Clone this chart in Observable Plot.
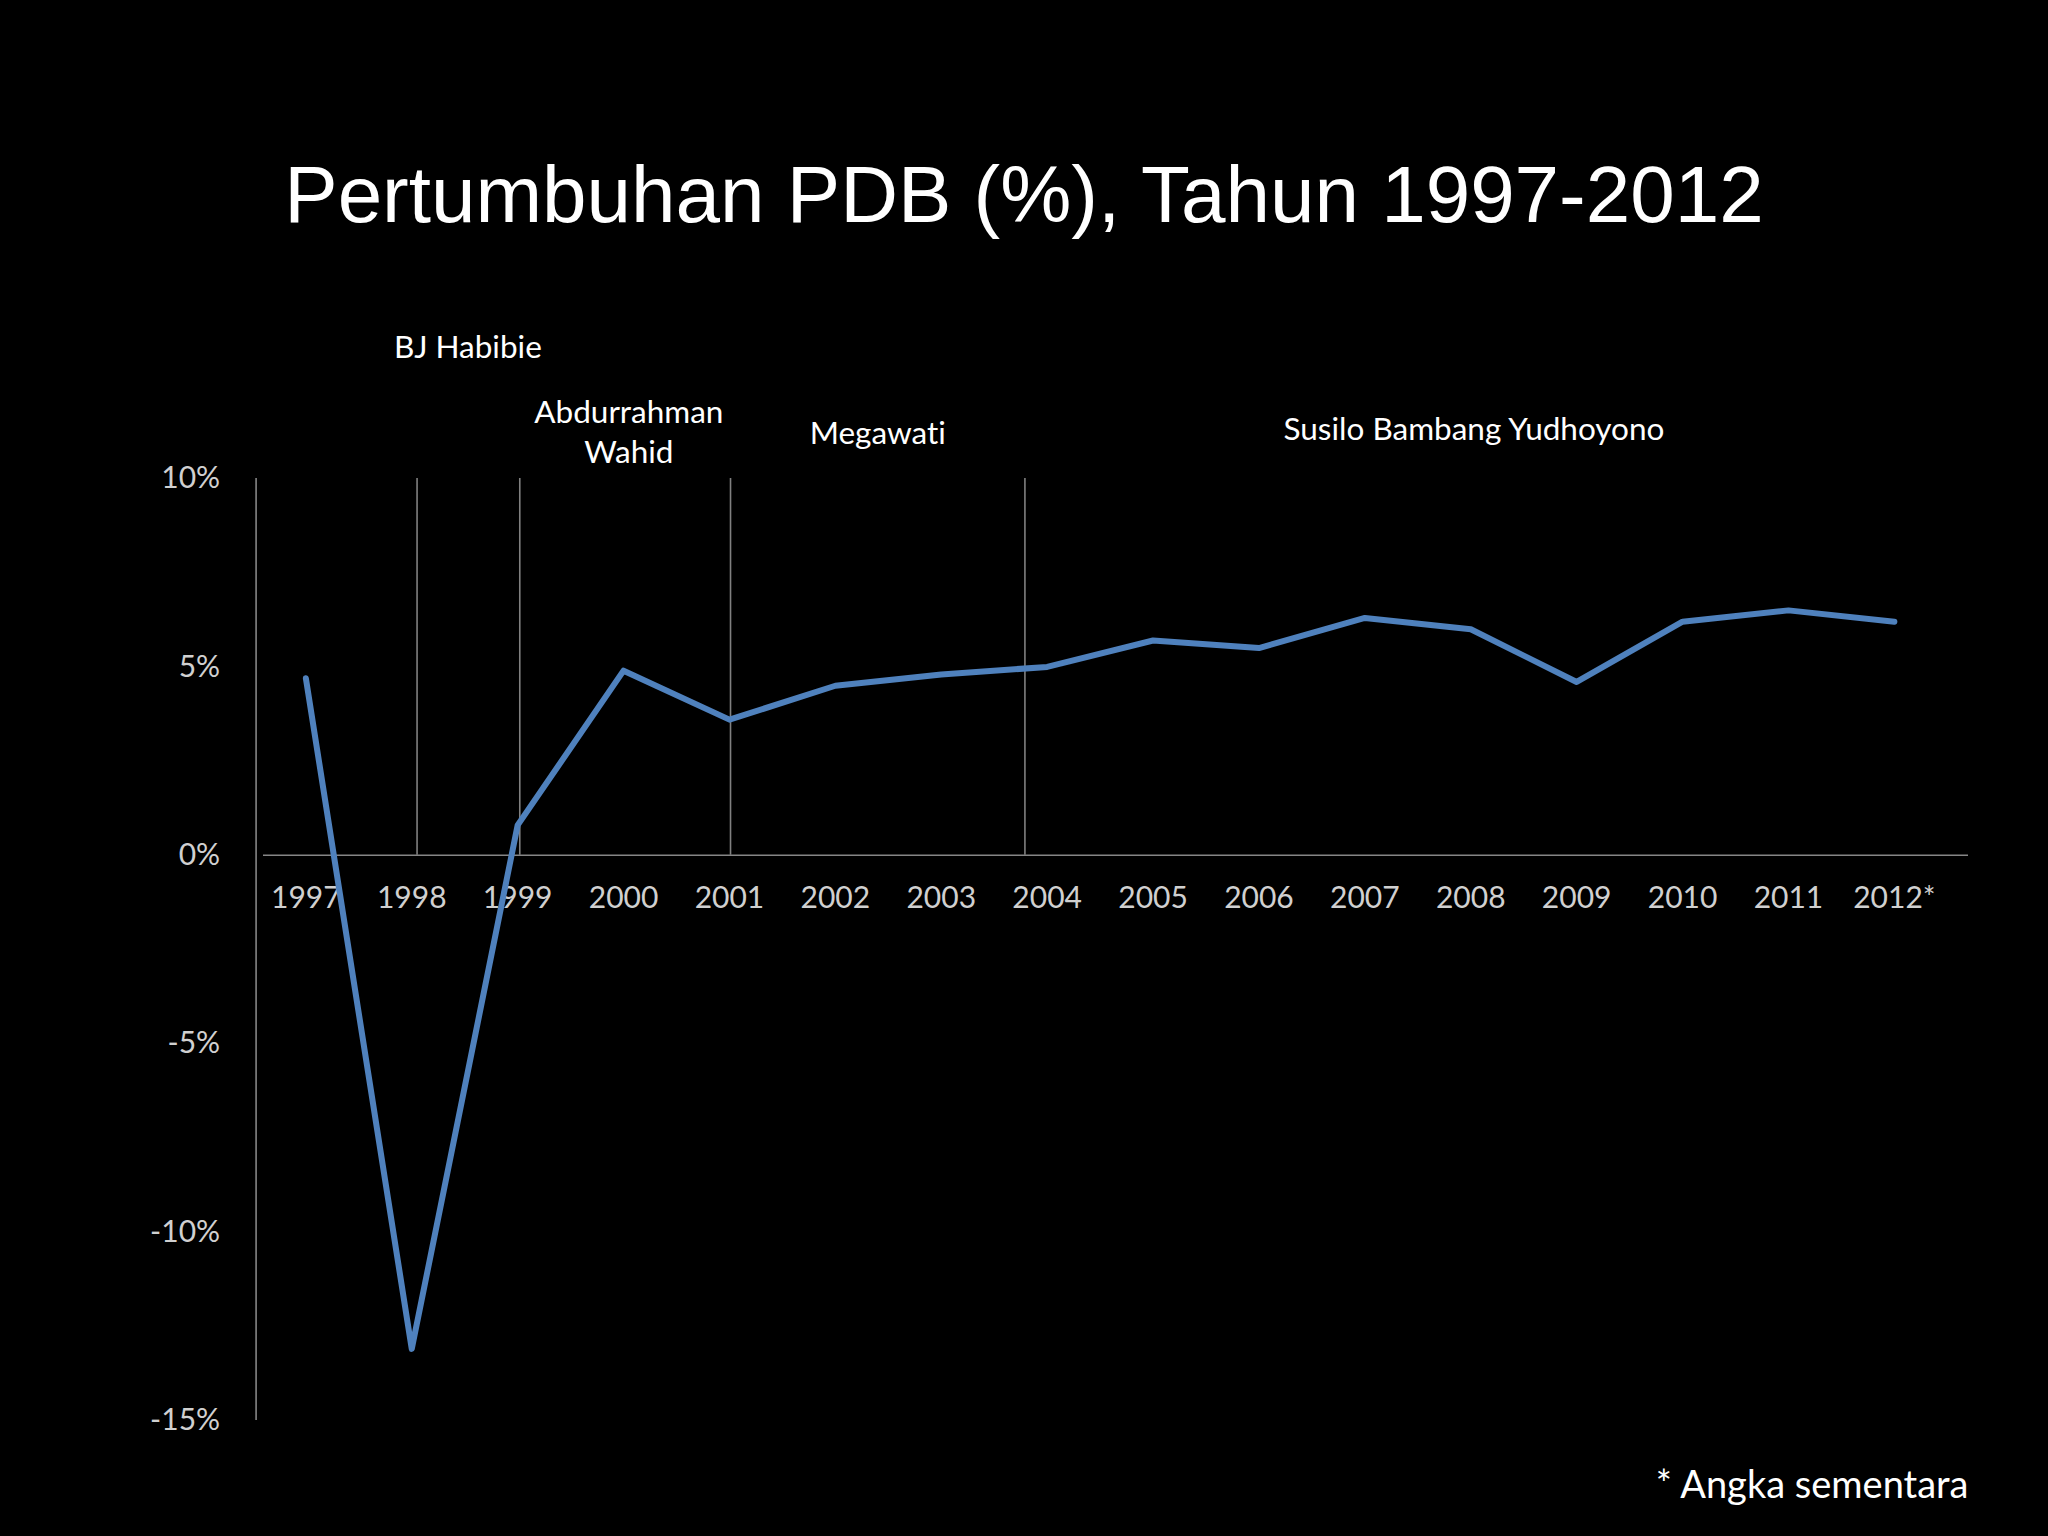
<!DOCTYPE html>
<html>
<head>
<meta charset="utf-8">
<script src="https://cdn.jsdelivr.net/npm/d3@7"></script>
<script src="https://cdn.jsdelivr.net/npm/@observablehq/plot@0.6"></script>
<style>
  html, body { margin: 0; padding: 0; background: #000; }
  body { width: 2048px; height: 1536px; overflow: hidden; }
  #title {
    box-sizing: border-box;
    height: 300px;
    padding-top: 155px;
    font-family: "Liberation Sans", Arial, sans-serif;
    font-size: 80px;
    line-height: 80px;
    color: #fff;
    text-align: center;
    white-space: nowrap;
  }
  #chart svg text { font-variant-ligatures: none; }
</style>
</head>
<body>
<div id="title">Pertumbuhan PDB (%), Tahun 1997-2012</div>
<div id="chart"></div>
<script>
// Data
const years = [1997, 1998, 1999, 2000, 2001, 2002, 2003, 2004, 2005, 2006, 2007, 2008, 2009, 2010, 2011, 2012];
const yearLabels = ["1997", "1998", "1999", "2000", "2001", "2002", "2003", "2004", "2005", "2006", "2007", "2008", "2009", "2010", "2011", "2012*"];
const growth = [4.7, -13.1, 0.8, 4.9, 3.6, 4.5, 4.8, 5.0, 5.7, 5.5, 6.3, 6.0, 4.6, 6.2, 6.5, 6.2];
const yTicks = [10, 5, 0, -5, -10, -15];
const yTickLabels = ["10%", "5%", "0%", "-5%", "-10%", "-15%"];
// Presidential term separators (year positions) and labels
const separators = [1998.05, 1999.02, 2001.01, 2003.79];
const presidents = ["BJ Habibie", "Abdurrahman\nWahid", "Megawati", "Susilo Bambang Yudhoyono"];
const presidentX = [1998.53, 2000.05, 2002.4, 2008.03];
const presidentY = [13.54, 11.29, 11.27, 11.36];
const footnote = "* Angka sementara";

const table = years.map((y, i) => ({year: y, label: yearLabels[i], value: growth[i]}));
const presTable = presidents.map((p, i) => ({name: p, x: presidentX[i], y: presidentY[i]}));
const tickTable = yTicks.map((v, i) => ({v, label: yTickLabels[i]}));

const plot = Plot.plot({
  width: 2048,
  height: 1236,
  marginTop: 178,
  marginBottom: 116,
  marginLeft: 263,
  marginRight: 80,
  style: {background: "#000", color: "#d0d0d0", fontFamily: "Lato, 'Open Sans', sans-serif", fontSize: "30px"},
  x: {domain: [1996.6, 2012.7], axis: null},
  y: {domain: [-15, 10], axis: null},
  marks: [
    // y axis line
    Plot.ruleX([1996.53], {y1: -15, y2: 10, stroke: "#868686", strokeWidth: 1.6}),
    // separators
    Plot.ruleX(separators, {y1: 0, y2: 10, stroke: "#808080", strokeWidth: 1.6}),
    // zero line
    Plot.ruleY([0], {stroke: "#868686", strokeWidth: 1.6}),
    // y tick labels
    Plot.text(tickTable, {x: 1996.53, y: "v", text: "label", textAnchor: "end", dx: -36, fill: "#d0d0d0", fontSize: 30}),
    // x tick labels
    Plot.text(table, {x: "year", y: 0, text: "label", dy: 43, fill: "#d0d0d0", fontSize: 30}),
    // line
    Plot.line(table, {x: "year", y: "value", stroke: "#4f81bd", strokeWidth: 6, strokeLinejoin: "round"}),
    // president labels
    Plot.text(presTable, {x: "x", y: "y", text: "name", fill: "#fff", fontSize: 31.5, lineHeight: 1.3}),
    // footnote
    Plot.text([footnote], {frameAnchor: "bottom-right", dy: 77, textAnchor: "end", fill: "#fff", fontSize: 38})
  ]
});
document.getElementById("chart").appendChild(plot);
</script>
</body>
</html>
